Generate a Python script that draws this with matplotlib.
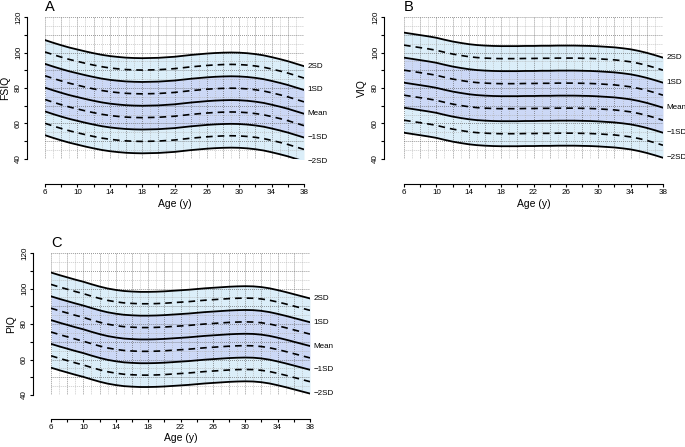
import numpy as np
import matplotlib.pyplot as plt
from matplotlib.ticker import FixedLocator

# ages (one point per year)
ages = list(range(6, 39))
age_ticks = list(range(6, 39, 2))
age_labels = [6, 10, 14, 18, 22, 26, 30, 34, 38]
iq_labels = [40, 60, 80, 100, 120]

fsiq_mean = [80.2, 78.7, 77.3, 76.0, 74.9, 73.8, 72.8, 71.9, 71.2, 70.7,
             70.3, 70.1, 70.0, 70.1, 70.2, 70.5, 70.8, 71.3, 71.8, 72.2,
             72.6, 72.9, 73.1, 73.2, 73.1, 72.8, 72.3, 71.6, 70.6, 69.5,
             68.3, 66.9, 65.5]
viq_mean = [83.0, 82.3, 81.6, 80.9, 80.1, 79.0, 78.0, 77.2, 76.5, 76.0,
            75.7, 75.5, 75.4, 75.4, 75.4, 75.5, 75.5, 75.6, 75.6, 75.7,
            75.7, 75.7, 75.6, 75.5, 75.3, 75.0, 74.7, 74.2, 73.6, 72.7,
            71.6, 70.3, 68.9]
piq_mean = [82.2, 80.8, 79.5, 78.2, 77.0, 75.6, 74.3, 73.2, 72.4, 71.8,
            71.5, 71.3, 71.3, 71.4, 71.6, 71.9, 72.2, 72.5, 72.9, 73.3,
            73.6, 73.9, 74.2, 74.4, 74.5, 74.4, 74.0, 73.3, 72.3, 71.2,
            70.0, 68.8, 67.6]

# standard deviation (spacing between solid lines)
fsiq_sd = 13.4
viq_sd = 14.1
piq_sd = 13.4

sd_labels = ["2SD", "1SD", "Mean", "\u22121SD", "\u22122SD"]
solid_k = [2, 1, 0, -1, -2]
dashed_k = [1.5, 0.5, -0.5, -1.5]

W, H = 685, 447
PT = 0.72  # points per pixel at dpi 100
light = '#dbeef9'
mid = '#ccd8f6'


def panel(fig, left, top, letter, ylab, mean, sd, yout, xout, xlab_y):
    ax = fig.add_axes([left / W, 1 - (top + 142) / H, 259 / W, 142 / H])
    x = np.array(ages)
    m = np.array(mean)

    # bands
    ax.fill_between(x, m + 2 * sd, m + sd, color=light, lw=0, zorder=1)
    ax.fill_between(x, m + sd, m - sd, color=mid, lw=0, zorder=1)
    ax.fill_between(x, m - sd, m - 2 * sd, color=light, lw=0, zorder=1)

    # grid
    for gx in range(6, 39):
        c = '#5e5e5e' if gx % 2 == 0 else '#b0b0b0'
        ax.axvline(gx, color=c, ls=(0, (1, 1.6)), lw=0.55, zorder=2)
    for gy in range(40, 121, 5):
        c = '#5e5e5e' if gy % 10 == 0 else '#b0b0b0'
        ax.axhline(gy, color=c, ls=(0, (1, 1.6)), lw=0.55, zorder=2)

    for k in solid_k:
        ax.plot(x, m + k * sd, color='black', lw=1.3, zorder=3)
    for k in dashed_k:
        ax.plot(x, m + k * sd, color='black', lw=1.2, ls=(0, (4, 3)), zorder=3)

    for k, lab in zip(solid_k, sd_labels):
        ax.text(38.4, m[-1] + k * sd, lab, fontsize=5.8, ha='left', va='center',
                clip_on=False)

    ax.set_xlim(6, 38)
    ax.set_ylim(40, 120)

    for s in ['top', 'right']:
        ax.spines[s].set_visible(False)
    ax.spines['left'].set_position(('outward', yout * PT))
    ax.spines['bottom'].set_position(('outward', xout * PT))
    ax.spines['left'].set_bounds(40, 120)
    ax.spines['bottom'].set_bounds(6, 38)
    ax.spines['left'].set_linewidth(0.8)
    ax.spines['bottom'].set_linewidth(0.8)

    ax.xaxis.set_major_locator(FixedLocator(age_labels))
    ax.xaxis.set_minor_locator(FixedLocator(age_ticks))
    ax.yaxis.set_major_locator(FixedLocator(iq_labels))
    ax.yaxis.set_minor_locator(FixedLocator(list(range(40, 121, 10))))
    ax.tick_params(which='both', length=3 * PT, width=0.8, labelsize=5.8, pad=1.5)
    for t in ax.get_yticklabels():
        t.set_rotation(90)
        t.set_va('center')

    ax.set_ylabel(ylab, fontsize=7.5)
    ax.yaxis.set_label_coords(-(yout + 17) / 259, 0.5)
    ax.set_xlabel('Age (y)', fontsize=7.5)
    ax.xaxis.set_label_coords(0.5, xlab_y)

    ax.text(0.0, 1 + 10 / 142, letter, transform=ax.transAxes, fontsize=10.5,
            ha='left', va='center')
    return ax


fig = plt.figure(figsize=(6.85, 4.47), dpi=100)
plt.rcParams['font.family'] = ['Liberation Sans', 'DejaVu Sans']

panel(fig, 45, 17, 'A', 'FSIQ', fsiq_mean, fsiq_sd, 18, 25, -0.28)
panel(fig, 404, 17, 'B', 'VIQ', viq_mean, viq_sd, 20, 25, -0.28)
panel(fig, 51, 253, 'C', 'PIQ', piq_mean, piq_sd, 18, 24, -0.27)

fig.savefig('out.png', dpi=100)
